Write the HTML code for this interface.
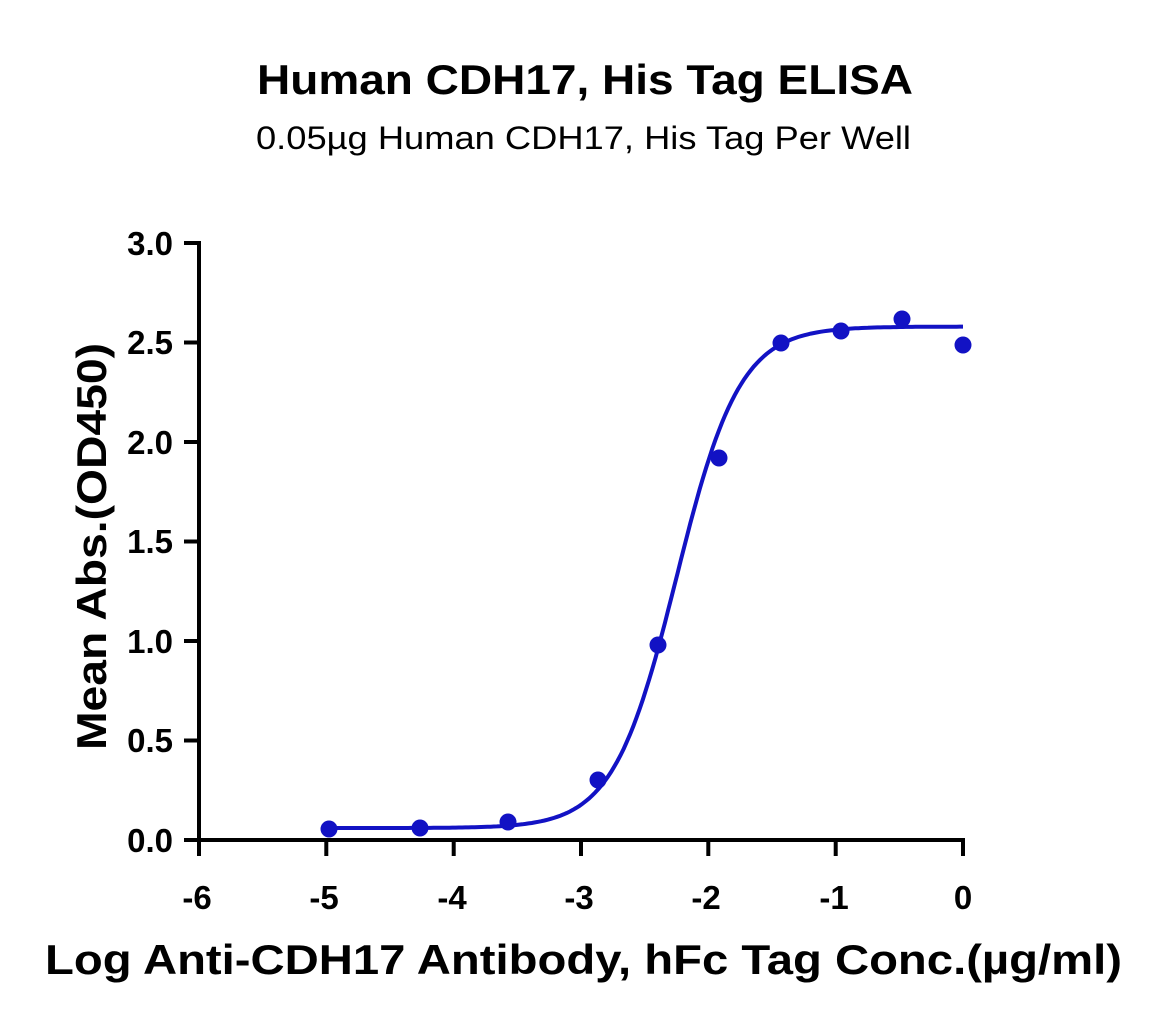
<!DOCTYPE html>
<html><head><meta charset="utf-8"><style>
body{margin:0;background:#fff;}
svg{display:block;font-family:"Liberation Sans",sans-serif;}
</style></head><body>
<svg width="1169" height="1032" viewBox="0 0 1169 1032" xmlns="http://www.w3.org/2000/svg">
<text x="257" y="94" font-size="42" font-weight="bold" textLength="656" lengthAdjust="spacingAndGlyphs">Human CDH17, His Tag ELISA</text>
<text x="256" y="149" font-size="32" textLength="655" lengthAdjust="spacingAndGlyphs">0.05µg Human CDH17, His Tag Per Well</text>
<g stroke="#000" stroke-width="4" fill="none">
<line x1="199" y1="241" x2="199" y2="842"/>
<line x1="197" y1="840" x2="965" y2="840"/>
<line x1="184" y1="243" x2="199" y2="243"/>
<line x1="184" y1="342.5" x2="199" y2="342.5"/>
<line x1="184" y1="442" x2="199" y2="442"/>
<line x1="184" y1="541.5" x2="199" y2="541.5"/>
<line x1="184" y1="641" x2="199" y2="641"/>
<line x1="184" y1="740.5" x2="199" y2="740.5"/>
<line x1="184" y1="840" x2="199" y2="840"/>
<line x1="199" y1="840" x2="199" y2="856"/>
<line x1="326.3" y1="840" x2="326.3" y2="856"/>
<line x1="453.7" y1="840" x2="453.7" y2="856"/>
<line x1="581" y1="840" x2="581" y2="856"/>
<line x1="708.3" y1="840" x2="708.3" y2="856"/>
<line x1="835.7" y1="840" x2="835.7" y2="856"/>
<line x1="963" y1="840" x2="963" y2="856"/>
</g>
<g font-size="33" font-weight="bold" text-anchor="end">
<text x="173" y="255">3.0</text>
<text x="173" y="354">2.5</text>
<text x="173" y="454">2.0</text>
<text x="173" y="553">1.5</text>
<text x="173" y="653">1.0</text>
<text x="173" y="752">0.5</text>
<text x="173" y="852">0.0</text>
</g>
<g font-size="33" font-weight="bold" text-anchor="middle">
<text x="197" y="909">-6</text>
<text x="324" y="909">-5</text>
<text x="452" y="909">-4</text>
<text x="579" y="909">-3</text>
<text x="706" y="909">-2</text>
<text x="834" y="909">-1</text>
<text x="963" y="909">0</text>
</g>
<text x="45" y="974" font-size="42" font-weight="bold" textLength="1077" lengthAdjust="spacingAndGlyphs">Log Anti-CDH17 Antibody, hFc Tag Conc.(µg/ml)</text>
<text transform="translate(106,750) rotate(-90)" font-size="42" font-weight="bold" textLength="407" lengthAdjust="spacingAndGlyphs">Mean Abs.(OD450)</text>
<path id="c" fill="none" stroke="#1212c4" stroke-width="4"/>
<g fill="#1212c4">
<circle cx="329" cy="829" r="8.5"/><circle cx="420" cy="828" r="8.5"/>
<circle cx="508" cy="822" r="8.5"/><circle cx="598" cy="780" r="8.5"/>
<circle cx="658" cy="645" r="8.5"/><circle cx="719" cy="458" r="8.5"/>
<circle cx="781" cy="343" r="8.5"/><circle cx="841" cy="331" r="8.5"/>
<circle cx="902" cy="319" r="8.5"/><circle cx="963" cy="345" r="8.5"/>
</g>
</svg>
<script>
var d="";for(var i=0;i<=200;i++){var x=-4.98+i*4.98/200;var y=0.06+(2.52)/(1+Math.pow(10,(-2.25-x)*1.75));
var px=963+x*127.33,py=840-y*199;d+=(i?"L":"M")+px.toFixed(1)+" "+py.toFixed(1);}
document.getElementById("c").setAttribute("d",d);
</script>
</body></html>
